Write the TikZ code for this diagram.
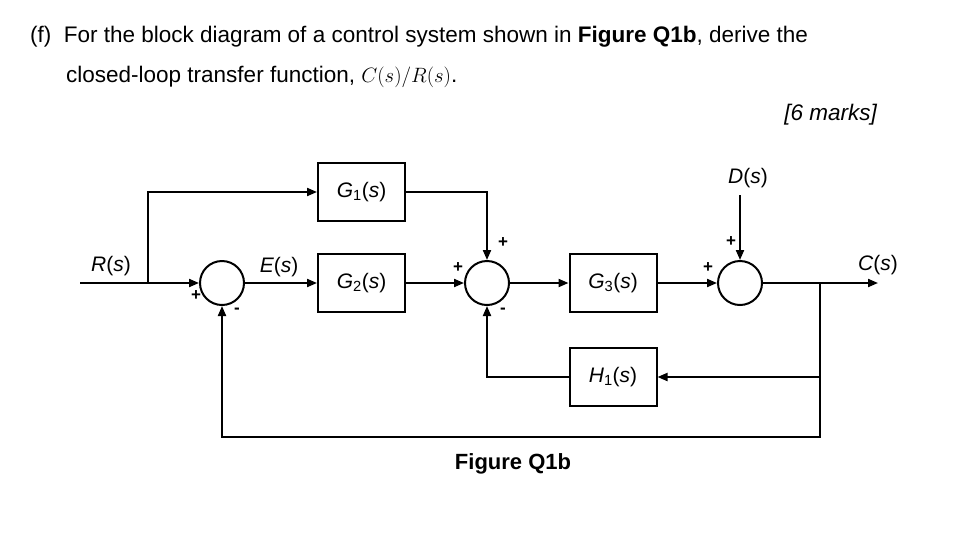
\documentclass[tikz,border=0pt]{standalone}
\usepackage{fontspec}
\setmainfont{Liberation Sans}
\usetikzlibrary{arrows.meta}
\begin{document}
\begin{tikzpicture}[x=1pt,y=-1pt,
  blk/.style={draw,line width=2pt,minimum width=87pt,minimum height=58pt,inner sep=0pt,font=\fontsize{21}{24}\selectfont},
  sum/.style={draw,circle,line width=2pt,minimum size=44pt,inner sep=0pt},
  ln/.style={line width=2pt},
  arr/.style={ln,-{Triangle[length=10pt,width=8pt]}},
  lbl/.style={font=\fontsize{21}{24}\selectfont,inner sep=0pt},
  sg/.style={font=\fontsize{17}{19}\selectfont\bfseries,inner sep=0pt}]
\useasboundingbox (0,0) rectangle (957,547);
\node[lbl,anchor=west,font=\fontsize{22.5}{26}\selectfont] (f) at (30,37) {(f)\ \ For the block diagram of a control system shown in \textbf{Figure Q1b}, derive the};
\node[lbl,anchor=west,font=\fontsize{22.5}{26}\selectfont] (f2) at (66,77) {closed-loop transfer function, $C(s)/R(s)$.};
\node[lbl,anchor=east,font=\fontsize{22.5}{26}\selectfont] (mk) at (877,115) {\itshape [6 marks]};
\node[blk] (g1) at (361.5,192) {$\mathit{G}$\textsubscript{1}($\mathit{s}$)};
\node[blk] (g2) at (361.5,283) {$\mathit{G}$\textsubscript{2}($\mathit{s}$)};
\node[blk] (g3) at (613,283) {$\mathit{G}$\textsubscript{3}($\mathit{s}$)};
\node[blk] (h1) at (613,377) {$\mathit{H}$\textsubscript{1}($\mathit{s}$)};
\node[sum] (s1) at (222,283) {};
\node[sum] (s2) at (487,283) {};
\node[sum] (s3) at (740,283) {};
\coordinate (rin) at (80,283);
\coordinate (b1) at (148,283);
\coordinate (b1u) at (148,192);
\coordinate (g1r) at (487,192);
\coordinate (dtop) at (740,195);
\coordinate (b2) at (820,283);
\coordinate (cout) at (878,283);
\coordinate (b2h) at (820,377);
\coordinate (b2d) at (820,437);
\coordinate (s1d) at (222,437);
\coordinate (h1l) at (487,377);
\node[lbl] (R) at (111,266) {$\mathit{R}$($\mathit{s}$)};
\node[lbl] (E) at (279,267) {$\mathit{E}$($\mathit{s}$)};
\node[lbl] (D) at (748,178) {$\mathit{D}$($\mathit{s}$)};
\node[lbl] (C) at (878,265) {$\mathit{C}$($\mathit{s}$)};
\draw[arr] (rin) -- (s1.west);
\draw[arr] (b1) -- (b1u) -- (g1.west);
\draw[arr] (s1.east) -- (g2.west);
\draw[arr] (g2.east) -- (s2.west);
\draw[arr] (g1.east) -- (g1r) -- (s2.north);
\draw[arr] (s2.east) -- (g3.west);
\draw[arr] (g3.east) -- (s3.west);
\draw[arr] (dtop) -- (s3.north);
\draw[arr] (s3.east) -- (cout);
\draw[arr] (b2) -- (b2h) -- (h1.east);
\draw[arr] (h1.west) -- (h1l) -- (s2.south);
\draw[arr] (b2h) -- (b2d) -- (s1d) -- (s1.south);
\node[sg] (p1) at (196,296) {+};
\node[sg] (m1) at (237,311) {-};
\node[sg] (p2) at (458,268) {+};
\node[sg] (p3) at (503,243) {+};
\node[sg] (m2) at (503,311) {-};
\node[sg] (p4) at (708,268) {+};
\node[sg] (p5) at (731,242) {+};
\node[lbl,font=\fontsize{22}{26}\selectfont\bfseries] (fig) at (513,464) {Figure Q1b};
\end{tikzpicture}
\end{document}
